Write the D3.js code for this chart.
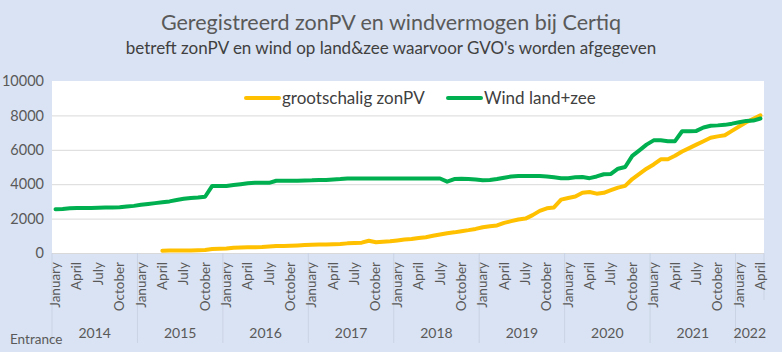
<!DOCTYPE html>
<html>
<head>
<meta charset="utf-8">
<script src="https://cdn.jsdelivr.net/npm/d3@7"></script>
<style>
  body { margin: 0; background: #dae3f3; }
  svg { display: block; font-family: Lato, 'Open Sans', sans-serif; }
</style>
</head>
<body>
<svg id="chart" width="782" height="352"></svg>
<script>
const years = [2014, 2015, 2016, 2017, 2018, 2019, 2020, 2021, 2022]
const monthNames = ['January', 'February', 'March', 'April', 'May', 'June', 'July',
  'August', 'September', 'October', 'November', 'December']
const tickMonths = ['January', 'April', 'July', 'October']
const lastMonth = 'April' // data runs up to April 2022
const yTicks = [0, 2000, 4000, 6000, 8000, 10000]

// MW per month, Jan 2014 .. Apr 2022
const wind = [
  2550, 2560, 2600, 2620, 2620, 2620, 2630, 2640, 2650, 2660, 2700, 2740,
  2800, 2850, 2900, 2950, 3000, 3080, 3150, 3200, 3230, 3270, 3900, 3900,
  3900, 3950, 4000, 4050, 4080, 4080, 4080, 4200, 4200, 4200, 4200, 4220,
  4230, 4250, 4250, 4280, 4300, 4330, 4330, 4330, 4330, 4330, 4330, 4330,
  4330, 4330, 4330, 4330, 4330, 4330, 4330, 4150, 4300, 4320, 4300, 4270,
  4230, 4250, 4300, 4380, 4450, 4480, 4480, 4480, 4470, 4450, 4400, 4350,
  4350, 4400, 4420, 4350, 4450, 4580, 4600, 4900, 5000, 5650, 5970, 6300,
  6550, 6550, 6500, 6500, 7080, 7080, 7100, 7300, 7400, 7420, 7450, 7520,
  7600, 7680, 7700, 7820
]
const zonPV = [
  null, null, null, null, null, null, null, null, null, null, null, null,
  null, null, null, 130, 140, 140, 150, 150, 160, 175, 230, 250,
  260, 300, 320, 330, 330, 350, 380, 400, 400, 420, 440, 460,
  480, 490, 500, 510, 520, 560, 580, 600, 710, 630, 660, 680,
  730, 780, 810, 870, 920, 1000, 1080, 1150, 1200, 1270, 1330, 1400,
  1500, 1560, 1600, 1750, 1850, 1950, 2000, 2200, 2450, 2600, 2650, 3100,
  3200, 3280, 3500, 3550, 3450, 3500, 3650, 3800, 3900, 4300, 4600, 4900,
  5150, 5450, 5450, 5650, 5900, 6100, 6300, 6500, 6700, 6780, 6850, 7100,
  7350, 7600, 7800, 8000
]
const series = [
  { name: 'grootschalig zonPV', values: zonPV, color: '#ffc000' },
  { name: 'Wind land+zee', values: wind, color: '#00b050' }
]

const svg = d3.select('#chart')
const plotLeft = 52, plotRight = 764, plotTop = 81, plotBottom = 253

const categories = []
years.forEach((yr) => {
  monthNames.forEach((m, i) => {
    if (yr === years[years.length - 1] && i > monthNames.indexOf(lastMonth)) return
    categories.push({ year: yr, month: m, key: yr + '-' + i })
  })
})

const x = d3.scaleBand().domain(categories.map((c) => c.key)).range([plotLeft, plotRight])
const y = d3.scaleLinear().domain([0, 10000]).range([plotBottom, plotTop])

// titles
svg.append('text').attr('x', 391).attr('y', 30).attr('text-anchor', 'middle')
  .attr('font-size', 21.5).attr('fill', '#595959')
  .text('Geregistreerd zonPV en windvermogen bij Certiq')
svg.append('text').attr('x', 391).attr('y', 54).attr('text-anchor', 'middle')
  .attr('font-size', 17).attr('fill', '#404040')
  .text("betreft zonPV en wind op land&zee waarvoor GVO's worden afgegeven")

// plot area
svg.append('rect').attr('x', plotLeft).attr('y', plotTop)
  .attr('width', plotRight - plotLeft).attr('height', plotBottom - plotTop).attr('fill', '#fff')

const yAxis = svg.append('g').attr('transform', `translate(${plotLeft},0)`)
  .call(d3.axisLeft(y).tickValues(yTicks).tickSize(-(plotRight - plotLeft)).tickPadding(8).tickFormat(d3.format('d')))
yAxis.select('.domain').remove()
yAxis.selectAll('line').attr('stroke', '#d9d9d9').attr('stroke-width', 1)
yAxis.selectAll('line').filter((d) => d === 10000).remove()
yAxis.selectAll('text').attr('font-size', 14.5).attr('fill', '#595959')
  .attr('font-family', 'Lato, sans-serif')

// category axis: month ticks, year groups
const xAxis = svg.append('g')
const sep = years.map((yr) => categories.findIndex((c) => c.year === yr))
xAxis.selectAll('line.sep').data(sep.concat([categories.length]))
  .join('line').attr('class', 'sep')
  .attr('x1', (i) => i < categories.length ? x(categories[i].key) : plotRight)
  .attr('x2', (i) => i < categories.length ? x(categories[i].key) : plotRight)
  .attr('y1', plotBottom)
  .attr('y2', (i) => i < categories.length ? 343 : 300)
  .attr('stroke', '#c9d3e3')

xAxis.selectAll('text.month')
  .data(categories.filter((c) => tickMonths.includes(c.month)))
  .join('text').attr('class', 'month')
  .attr('transform', (c) => `translate(${x(c.key) + x.bandwidth() / 2 + 4.5},262) rotate(-90)`)
  .attr('text-anchor', 'end').attr('font-size', 13.5).attr('fill', '#595959')
  .text((c) => c.month)

xAxis.selectAll('text.year').data(years).join('text').attr('class', 'year')
  .attr('x', (yr) => {
    const c = categories.filter((d) => d.year === yr)
    return (x(c[0].key) + x(c[c.length - 1].key) + x.bandwidth()) / 2
  })
  .attr('y', 338).attr('text-anchor', 'middle').attr('font-size', 14).attr('fill', '#595959')
  .text((yr) => yr)

svg.append('text').attr('x', 10).attr('y', 344).attr('font-size', 13.5).attr('fill', '#595959')
  .text('Entrance')

// lines
const line = d3.line()
  .defined((d) => d.v != null)
  .x((d) => x(d.c.key) + x.bandwidth() / 2)
  .y((d) => y(d.v))

svg.append('g').selectAll('path').data(series).join('path')
  .attr('d', (s) => line(s.values.map((v, i) => ({ v, c: categories[i] }))))
  .attr('fill', 'none').attr('stroke', (s) => s.color)
  .attr('stroke-width', 4).attr('stroke-linejoin', 'round').attr('stroke-linecap', 'round')

// legend
const legendX = [246, 448]
const legend = svg.append('g').selectAll('g').data(series).join('g')
  .attr('transform', (s, i) => `translate(${legendX[i]},98)`)
legend.append('line').attr('x1', 0).attr('x2', 33)
  .attr('stroke', (s) => s.color).attr('stroke-width', 4).attr('stroke-linecap', 'round')
legend.append('text').attr('x', 36).attr('y', 6).attr('font-size', 17).attr('fill', '#404040')
  .text((s) => s.name)
</script>
</body>
</html>
